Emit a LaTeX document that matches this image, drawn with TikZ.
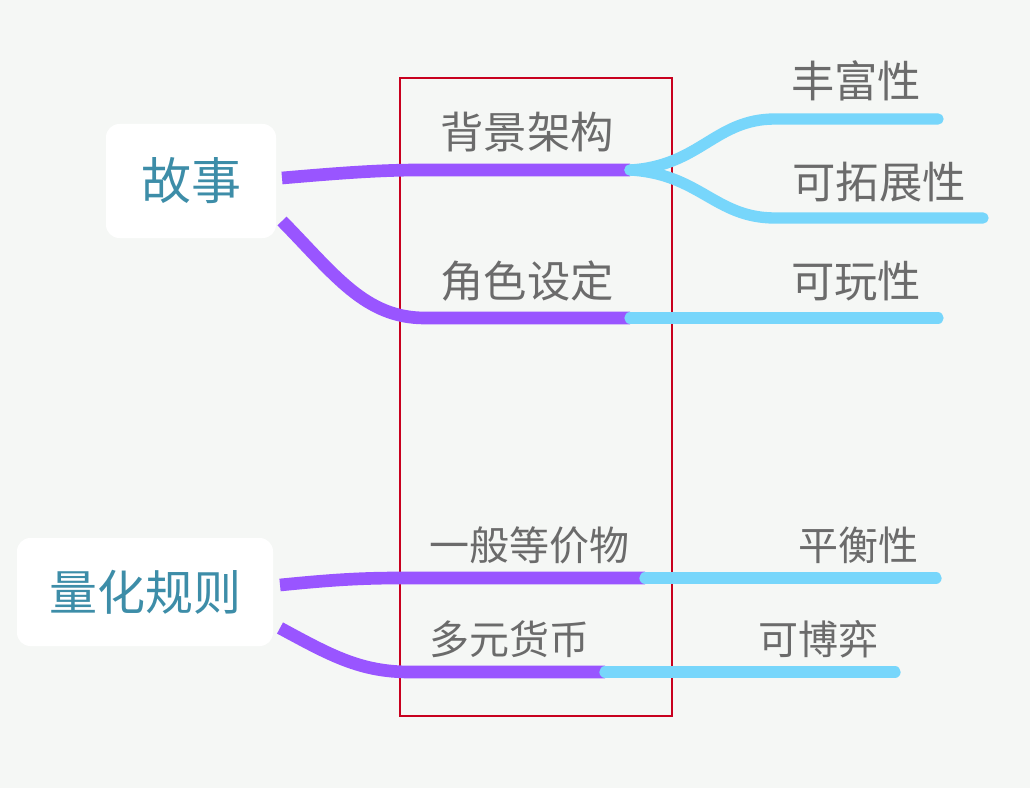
\documentclass[tikz,border=0pt]{standalone}
\usepackage{fontspec}
\setmainfont{Noto Sans CJK SC}
\definecolor{bgc}{HTML}{F5F7F5}
\definecolor{purp}{HTML}{9955FF}
\definecolor{sky}{HTML}{77D6FB}
\definecolor{rootc}{HTML}{3D8DA8}
\definecolor{txtc}{HTML}{6B6B6B}
\definecolor{framec}{HTML}{C8001E}
\tikzset{
  rootbox/.style={fill=white, rounded corners=10pt, inner sep=0pt, text=rootc},
  bigroot/.style={rootbox, font=\fontsize{37.5}{42}\selectfont},
  smallroot/.style={rootbox, font=\fontsize{36}{40}\selectfont},
  lbl/.style={text=txtc, inner sep=0pt},
  biglbl/.style={lbl, font=\fontsize{32.5}{38}\selectfont},
  smalllbl/.style={lbl, font=\fontsize{30}{36}\selectfont},
  purpline/.style={draw=purp, line width=9.5pt},
  skyline/.style={draw=sky, line width=8.5pt, line cap=round},
}
\begin{document}
\begin{tikzpicture}[x=0.75pt,y=-0.75pt]
\fill[bgc] (0,0) rectangle (1030,788);
\useasboundingbox (0,0) rectangle (1030,788);
% root boxes
\node[bigroot, minimum width=170*0.75pt, minimum height=114*0.75pt] (gs) at (191,181) {故事};
\node[smallroot, minimum width=256*0.75pt, minimum height=108*0.75pt] (lh) at (145,592) {量化规则};
% frame
\draw[framec, line width=1.3pt] (400,78) rectangle (672,716);
% coordinates
\coordinate (a1) at (282,178);
\coordinate (a2) at (282,221);
\coordinate (b1) at (630,170);
\coordinate (b2) at (630,318);
\coordinate (c1) at (938,119);
\coordinate (c2) at (983,218);
\coordinate (c3) at (938,318);
\coordinate (d1) at (280,585);
\coordinate (d2) at (280,628);
\coordinate (e1) at (645,578);
\coordinate (e2) at (605,672);
\coordinate (f1) at (936,578);
\coordinate (f2) at (895,672);
% purple branches
\draw[purpline] (a1) .. controls (340,173) and (380,170) .. (420,170) -- (b1);
\draw[purpline] (a2) .. controls (335,275) and (365,318) .. (425,318) -- (b2);
\draw[purpline] (d1) .. controls (330,580) and (360,578) .. (400,578) -- (e1);
\draw[purpline] (d2) .. controls (330,655) and (360,672) .. (410,672) -- (e2);
% sky branches
\draw[skyline] (b1) .. controls (700,166) and (715,119) .. (775,119) -- (c1);
\draw[skyline] (b1) .. controls (700,174) and (715,218) .. (775,218) -- (c2);
\draw[skyline] (b2) -- (c3);
\draw[skyline] (e1) -- (f1);
\draw[skyline] (e2) -- (f2);
% labels
\node[biglbl] (l1) at (527,132) {背景架构};
\node[biglbl] (l2) at (527,281) {角色设定};
\node[biglbl] (l3) at (856,81) {丰富性};
\node[biglbl] (l4) at (879,182) {可拓展性};
\node[biglbl] (l5) at (856,281) {可玩性};
\node[smalllbl] (l6) at (529,545) {一般等价物};
\node[smalllbl] (l7) at (858,545) {平衡性};
\node[smalllbl] (l8) at (509,639) {多元货币};
\node[smalllbl] (l9) at (818,639) {可博弈};
\end{tikzpicture}
\end{document}
